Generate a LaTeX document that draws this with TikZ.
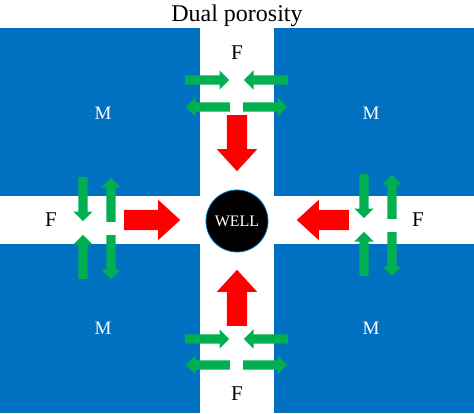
\documentclass[tikz,border=0pt]{standalone}
\usepackage{fontspec}
\setmainfont{Liberation Serif}
\usepackage{xcolor}
\usepackage{tikz}
\usetikzlibrary{shapes.arrows}
\definecolor{matrixblue}{RGB}{0,112,192}
\definecolor{flowgreen}{RGB}{0,176,80}

\begin{document}
\begin{tikzpicture}[x=1pt,y=-1pt,
  block/.style={fill=matrixblue},
  bigarrow/.style={single arrow,fill=red,inner xsep=0pt,inner ysep=10pt,single arrow head extend=10pt,single arrow tip angle=85,minimum height=56pt,anchor=tail},
  smallarrow/.style={single arrow,fill=flowgreen,inner xsep=0pt,inner ysep=4.5pt,single arrow head extend=5pt,minimum height=44pt,anchor=tail},
  lbl/.style={font=\fontsize{21}{21}\selectfont},
  mlbl/.style={font=\fontsize{19}{19}\selectfont,text=white}]
\useasboundingbox (0,0) rectangle (474,413);

% matrix blocks
\fill[block] (0,28) rectangle (200,196);
\fill[block] (274,28) rectangle (474,196);
\fill[block] (0,244) rectangle (200,413);
\fill[block] (274,244) rectangle (474,413);

\node[font=\fontsize{24}{24}\selectfont,anchor=base] (title) at (237,21) {Dual porosity};

\node[mlbl] (M1) at (103,113) {M};
\node[mlbl] (M2) at (371,113) {M};
\node[mlbl] (M3) at (103,328) {M};
\node[mlbl] (M4) at (371,328) {M};

\node[lbl] (Ftop)   at (237,53)  {F};
\node[lbl] (Fleft)  at (51,220)  {F};
\node[lbl] (Fright) at (418,220) {F};
\node[lbl] (Fbot)   at (237,394) {F};

\node[circle,fill=black,draw=matrixblue,line width=0.8pt,minimum size=62pt,text=white,font=\fontsize{16}{16}\selectfont] (well) at (237,221) {WELL};

% flow to the well
\node[bigarrow,rotate=-90] (rtop)   at (237,115) {};
\node[bigarrow,rotate=90]  (rbot)   at (237,326) {};
\node[bigarrow]            (rleft)  at (124,220) {};
\node[bigarrow,rotate=180,minimum height=52pt] (rright) at (349,220) {};

% matrix-fracture exchange
\node[smallarrow]            (gt1) at (185,80)  {};
\node[smallarrow,rotate=180] (gt2) at (288,80)  {};
\node[smallarrow,rotate=180] (gt3) at (230,107) {};
\node[smallarrow]            (gt4) at (243,107) {};

\node[smallarrow]            (gb1) at (185,339) {};
\node[smallarrow,rotate=180] (gb2) at (288,339) {};
\node[smallarrow,rotate=180] (gb3) at (230,365) {};
\node[smallarrow]            (gb4) at (243,365) {};

\node[smallarrow,rotate=-90] (gl1) at (83,177)  {};
\node[smallarrow,rotate=90]  (gl2) at (111,222) {};
\node[smallarrow,rotate=90]  (gl3) at (83,279)  {};
\node[smallarrow,rotate=-90] (gl4) at (111,235) {};

\node[smallarrow,rotate=-90] (gr1) at (364,174) {};
\node[smallarrow,rotate=90]  (gr2) at (392,219) {};
\node[smallarrow,rotate=90]  (gr3) at (364,276) {};
\node[smallarrow,rotate=-90] (gr4) at (392,232) {};
\end{tikzpicture}
\end{document}
